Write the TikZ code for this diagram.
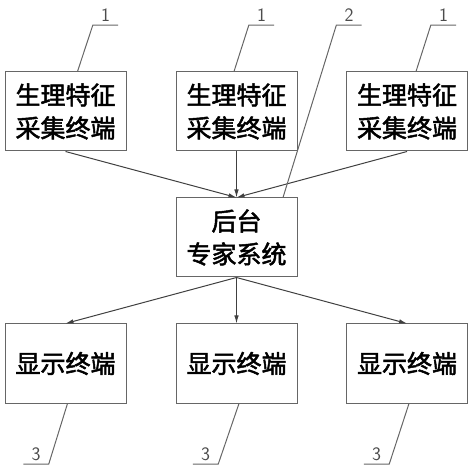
\documentclass[tikz,border=0pt]{standalone}
\usepackage{fontspec}
\usetikzlibrary{arrows.meta}
\newfontfamily\cjk[FakeBold=2]{Noto Sans CJK SC}

\begin{document}
\begin{tikzpicture}[
   x=1pt, y=-1pt,
   >={Latex[length=8pt,width=4.5pt]},
   box/.style={draw=black!60, line width=1pt, align=center, inner sep=0pt,
               minimum width=121pt, minimum height=79pt,
               font=\cjk\fontsize{25}{33}\selectfont},
   num/.style={inner sep=0pt, minimum width=25pt, minimum height=20pt,
               text=black!70, font=\sffamily\fontsize{19}{19}\selectfont},
   lead/.style={draw=black!60, line width=1pt},
   link/.style={->, draw=black!75, line width=1pt},
]
\useasboundingbox (0,0) rectangle (474,470);

% ---- acquisition terminals ----
\node[box] (sens1) at (65.5,111.5) {生理特征\\采集终端};
\node[box] (sens2) at (236.5,111.5) {生理特征\\采集终端};
\node[box] (sens3) at (407,111.5) {生理特征\\采集终端};

% ---- backend ----
\node[box] (hub) at (236.5,237.5) {后台\\专家系统};

% ---- display terminals ----
\node[box] (disp1) at (65.5,363.5) {显示终端};
\node[box] (disp2) at (236.5,363.5) {显示终端};
\node[box] (disp3) at (407,363.5) {显示终端};

% ---- reference numerals ----
\node[num] (n1a) at (105.5,15) {1};
\node[num] (n1b) at (261.5,15) {1};
\node[num] (n1c) at (443.5,15) {1};
\node[num] (n2)  at (349,15) {2};
\node[num] (n3a) at (36,454) {3};
\node[num] (n3b) at (205.5,454) {3};
\node[num] (n3c) at (376.5,454) {3};

% ---- arrows ----
\draw[link] (sens1.south) -- (hub.north);
\draw[link] (sens2.south) -- (hub.north);
\draw[link] (sens3.south) -- (hub.north);
\draw[link] (hub.south) -- (disp1.north);
\draw[link] (hub.south) -- (disp2.north);
\draw[link] (hub.south) -- (disp3.north);

% ---- leaders ----
\draw[lead] ([xshift=12pt]sens1.north) -- (n1a.south west) -- (n1a.south east);
\draw[lead] ([xshift=-2.5pt]sens2.north) -- (n1b.south west) -- (n1b.south east);
\draw[lead] ([xshift=9pt]sens3.north) -- (n1c.south west) -- (n1c.south east);
\draw[lead] ([xshift=46.5pt]hub.north) -- (n2.south west) -- (n2.south east);
\draw[lead] ([xshift=2pt]disp1.south) -- (n3a.south east) -- (n3a.south west);
\draw[lead] ([xshift=2.5pt]disp2.south) -- (n3b.south east) -- (n3b.south west);
\draw[lead] ([xshift=2pt]disp3.south) -- (n3c.south east) -- (n3c.south west);
\end{tikzpicture}
\end{document}
